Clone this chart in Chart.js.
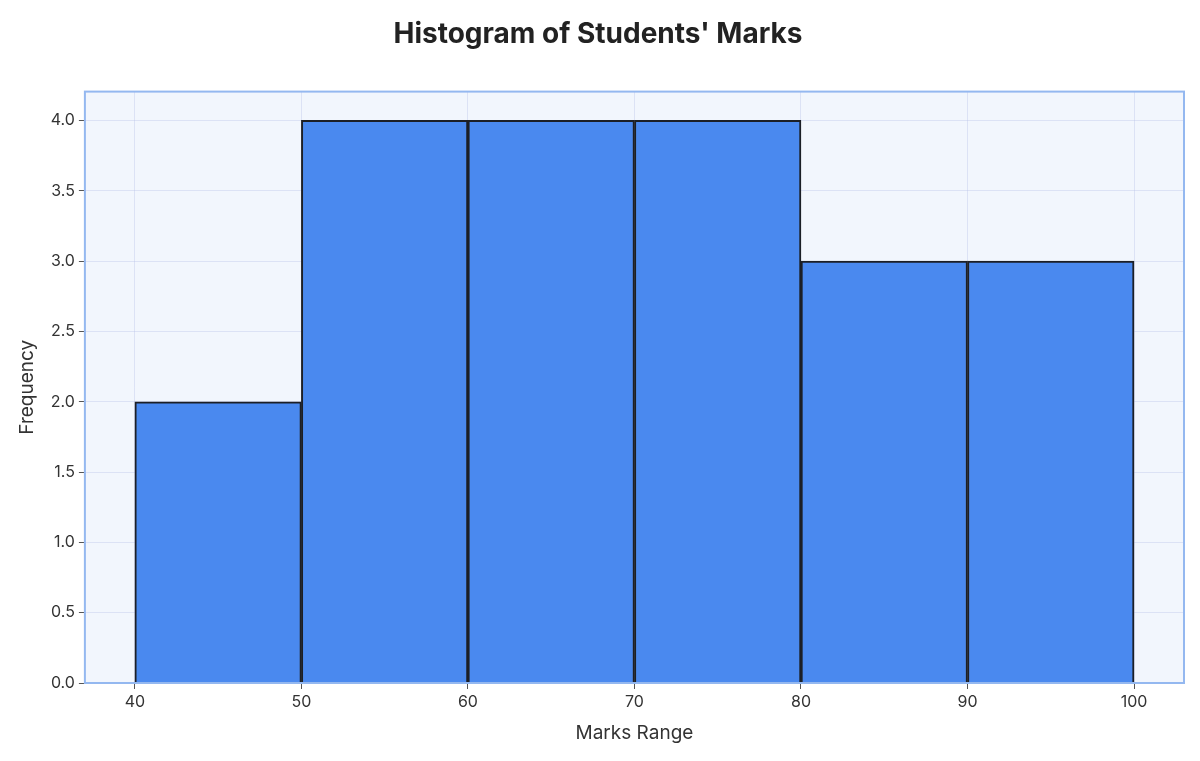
<!DOCTYPE html>
<html>
<head>
<meta charset="utf-8">
<script src="https://cdn.jsdelivr.net/npm/chart.js@4.4.0/dist/chart.umd.min.js"></script>
<style>
  html, body { margin: 0; padding: 0; background: #fff; }
  #wrap { width: 1200px; height: 761px; }
</style>
</head>
<body>
<div id="wrap"><canvas id="chart"></canvas></div>
<script>
// bin starts (width 10) and counts per bin
const binStarts = [40, 50, 60, 70, 80, 90];
const binWidth = 10;
const frequencies = [2, 4, 4, 4, 3, 3];
const xTicks = [40, 50, 60, 70, 80, 90, 100];

const points = binStarts.map(function(s, i) {
    return { x: s + binWidth / 2, y: frequencies[i] };
});

const plotBackground = {
    id: 'plotBackground',
    beforeDraw: function(chart) {
        const a = chart.chartArea;
        const ctx = chart.ctx;
        ctx.save();
        ctx.fillStyle = '#f2f6fd';
        ctx.fillRect(a.left, a.top, a.width, a.height);
        ctx.restore();
    },
    afterDraw: function(chart) {
        const a = chart.chartArea;
        const ctx = chart.ctx;
        ctx.save();
        ctx.strokeStyle = '#94b8f0';
        ctx.lineWidth = 2;
        ctx.strokeRect(a.left, a.top, a.width, a.height);
        ctx.restore();
    }
};

new Chart(document.getElementById('chart'), {
    type: 'bar',
    data: {
        datasets: [{
            data: points,
            backgroundColor: '#4a89ef',
            borderColor: '#1c1f26',
            borderWidth: 2,
            barPercentage: 1,
            categoryPercentage: 1,
            grouped: false
        }]
    },
    plugins: [plotBackground],
    options: {
        responsive: true,
        maintainAspectRatio: false,
        animation: false,
        layout: { padding: { left: 12, right: 16, top: 14, bottom: 12 } },
        plugins: {
            legend: { display: false },
            tooltip: { enabled: false },
            title: {
                display: true,
                text: "Histogram of Students' Marks",
                color: '#222',
                font: { family: 'Inter', size: 28, weight: 'bold' },
                padding: { top: 4, bottom: 40 }
            }
        },
        scales: {
            x: {
                type: 'linear',
                offset: false,
                min: 37,
                max: 103,
                afterBuildTicks: function(axis) {
                    axis.ticks = xTicks.map(function(v) { return { value: v }; });
                },
                grid: { offset: false, color: 'rgba(180,190,230,0.35)', tickLength: 6, tickColor: '#555' },
                border: { display: false },
                ticks: { color: '#333', font: { family: 'Inter', size: 16 }, padding: 4 },
                title: {
                    display: true, text: 'Marks Range', color: '#333',
                    font: { family: 'Inter', size: 19 }, padding: { top: 6 }
                }
            },
            y: {
                min: 0,
                max: 4.205,
                afterBuildTicks: function(axis) {
                    const t = [];
                    for (let v = 0; v <= 4; v += 0.5) t.push({ value: v });
                    axis.ticks = t;
                },
                grid: { color: 'rgba(180,190,230,0.35)', tickLength: 6, tickColor: '#555' },
                border: { display: false },
                ticks: {
                    color: '#333', font: { family: 'Inter', size: 16 }, padding: 4,
                    callback: function(v) { return v.toFixed(1); }
                },
                title: {
                    display: true, text: 'Frequency', color: '#333',
                    font: { family: 'Inter', size: 19 }, padding: { bottom: 8 }
                }
            }
        }
    }
});
</script>
</body>
</html>
